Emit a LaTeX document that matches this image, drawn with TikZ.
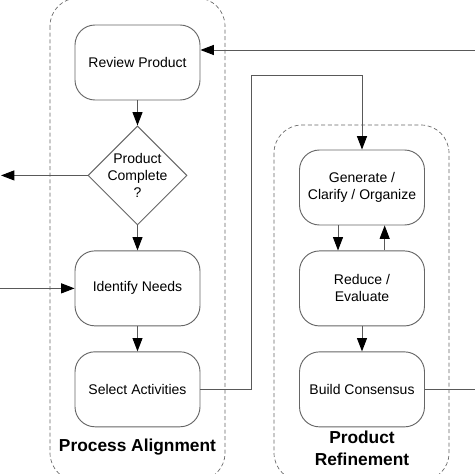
\documentclass[tikz,border=0pt]{standalone}
\usepackage{fontspec}
\setmainfont{Liberation Sans}
\usetikzlibrary{arrows.meta, positioning, shapes.geometric}

\begin{document}
\begin{tikzpicture}[
    x=0.75pt, y=-0.75pt,
    node distance=18.75pt,
    line width=0.7pt,
    block/.style={
        draw=black!60,
        rounded corners=15pt,
        minimum width=93.75pt,
        minimum height=56.25pt,
        align=center,
        font=\fontsize{10.5}{12.75}\selectfont
    },
    decision/.style={
        draw=black!60,
        diamond,
        minimum width=74.25pt,
        minimum height=74.25pt,
        inner sep=-2pt,
        align=center,
        font=\fontsize{10.5}{12.75}\selectfont
    },
    group/.style={draw=black!60, line width=0.5pt, dash pattern=on 3pt off 2pt, rounded corners=21pt},
    title/.style={align=center, font=\fontsize{13}{16.5}\selectfont\bfseries},
    arrow/.style={-{Triangle[length=10pt, width=7.5pt, color=black]}, draw=black!65}
]
\useasboundingbox (0,0) rectangle (474,474);

\draw[group] (50,-2) rectangle (225,481);
\draw[group] (274,125) rectangle (449,481);

\node[block] (review) at (137.5,62.5) {Review Product};
\node[decision, below=of review] (complete) {Product\\Complete\\?};
\node[block, below=of complete] (identify) {Identify Needs};
\node[block, below=of identify] (select) {Select Activities};
\node[title] (alignment) at (137.5,447) {Process Alignment};

\node[block] (generate) at (362,187.5) {Generate /\\Clarify / Organize};
\node[block, below=of generate] (reduce) {Reduce /\\Evaluate};
\node[block, below=of reduce] (consensus) {Build Consensus};
\node[title] (refinement) at (362,448) {Product\\Refinement};

\coordinate (exit) at (1,0);
\coordinate (entry) at (0,0);
\coordinate (turn) at (251,75);
\coordinate (back) at (490,50);

\draw[arrow] (review) -- (complete);
\draw[arrow] (complete) -- (identify);
\draw[arrow] (identify) -- (select);
\draw[arrow] (complete.west) -- (complete.west -| exit);
\draw[arrow] (identify.west -| entry) -- (identify.west);
\draw[arrow] (select.east) -| (turn) -| (generate.north);
\draw[arrow] ([xshift=-18pt]generate.south) -- ([xshift=-18pt]reduce.north);
\draw[arrow] ([xshift=17pt]reduce.north) -- ([xshift=17pt]generate.south);
\draw[arrow] (reduce) -- (consensus);
\draw[arrow] (consensus.east) -| (back) -- (back -| review.east);
\end{tikzpicture}
\end{document}
